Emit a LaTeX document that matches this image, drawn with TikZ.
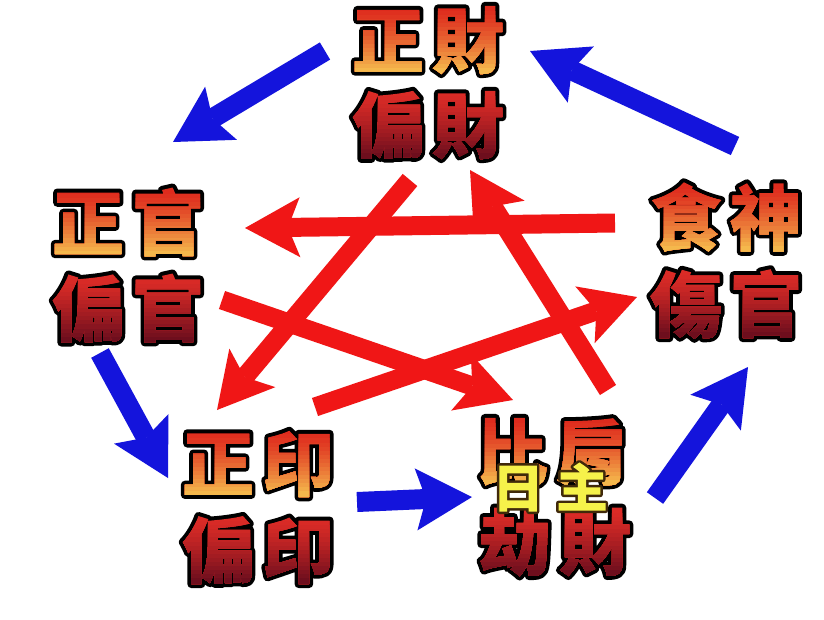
\documentclass[tikz,border=0pt]{standalone}
\usepackage{fontspec}
\usetikzlibrary{arrows.meta}
\newfontfamily\cjk{Noto Sans CJK TC}
\definecolor{zcblue}{HTML}{1414DC}
\definecolor{zcred}{HTML}{F01616}
\definecolor{topA}{HTML}{E0301F}
\definecolor{topB}{HTML}{DA2C26}
\definecolor{zcyellow}{HTML}{F6F24A}
\newcommand\zcfont{\cjk\bfseries\fontsize{72}{80}\selectfont}
\newcommand\zcpair[2]{#1\hspace{8pt}#2}
% vertical gradient (PDF fill operators) from top rgb to bottom rgb
\newcommand\zcmakegrad[7]{%
  \gdef#1{}%
  \foreach \k in {0,...,15}{%
    \pgfmathsetmacro\zct{(\k/15)^1.3}%
    \pgfmathsetmacro\zcr{#2+(#5-#2)*\zct}%
    \pgfmathsetmacro\zcg{#3+(#6-#3)*\zct}%
    \pgfmathsetmacro\zcb{#4+(#7-#4)*\zct}%
    \pgfmathsetmacro\zch{\k==0 ? 100 : 80-\k*65/16}%
    \xdef#1{#1 \zcr\space\zcg\space\zcb\space rg -175 -20 200 \zch\space re f}%
  }}
\zcmakegrad{\zcgradA}{0.870}{0.170}{0.115}{0.961}{0.720}{0.300}
\zcmakegrad{\zcgradB}{0.860}{0.170}{0.150}{0.430}{0.055}{0.115}
\newcommand\zcyel{0.965 0.949 0.290 rg -140 -30 160 120 re f}
% outlined text: stroke (outline) and clip to glyphs, then paint inside
\newcommand\zcfx[4]{%
  \special{pdf:bcontent}%
  \special{pdf:literal direct #1 RG #2 w 1 j 5 Tr}%
  #3%
  \special{pdf:literal direct 0 Tr}%
  \special{pdf:content #4}%
  \special{pdf:econtent}}
\begin{document}
\begin{tikzpicture}[x=1pt,y=-1pt,
  rowA/.style={inner sep=0pt, font=\zcfont, text=topA},
  rowB/.style={inner sep=0pt, font=\zcfont, text=topB},
  bluearrow/.style={draw=zcblue, line width=20pt,
    -{Stealth[length=56pt,width=62pt,inset=10pt,line width=0pt]}},
  redarrow/.style={draw=zcred, line width=19pt,
    -{Stealth[length=55pt,width=60pt,inset=12pt,line width=0pt]}}]
\fill[white] (0,0) rectangle (824,619);
\useasboundingbox (0,0) rectangle (824,619);

% red arrows (controlling cycle)
\coordinate (r1s) at (615,223); \coordinate (r1e) at (245,228);
\coordinate (r2s) at (222,300); \coordinate (r2e) at (513,400);
\coordinate (r3s) at (410,180); \coordinate (r3e) at (217,410);
\coordinate (r4s) at (608,390); \coordinate (r4e) at (470,170);
\coordinate (r5s) at (315,407); \coordinate (r5e) at (637,297);
\draw[redarrow] (r1s) -- (r1e);
\draw[redarrow] (r2s) -- (r2e);
\draw[redarrow] (r3s) -- (r3e);
\draw[redarrow] (r4s) -- (r4e);
\draw[redarrow] (r5s) -- (r5e);

% blue arrows (generating cycle)
\coordinate (b1s) at (325,51);  \coordinate (b1e) at (173,142);
\coordinate (b2s) at (735,146); \coordinate (b2e) at (530,51);
\coordinate (b3s) at (100,353); \coordinate (b3e) at (168,478);
\coordinate (b4s) at (357,502); \coordinate (b4e) at (472,497);
\coordinate (b5s) at (655,498); \coordinate (b5e) at (748,367);
\draw[bluearrow] (b1s) -- (b1e);
\draw[bluearrow] (b2s) -- (b2e);
\draw[bluearrow] (b3s) -- (b3e);
\draw[bluearrow] (b4s) -- (b4e);
\draw[bluearrow] (b5s) -- (b5e);

% labels
\node[rowA] (zcA) at (428,40)  {\zcfx{0 0 0}{8}{\zcpair{正}{財}}{\zcgradA}};
\node[rowB] (zcB) at (428,125) {\zcfx{0 0 0}{8}{\zcpair{偏}{財}}{\zcgradB}};
\node[rowA] (gA)  at (128,222) {\zcfx{0 0 0}{8}{\zcpair{正}{官}}{\zcgradA}};
\node[rowB] (gB)  at (128,308) {\zcfx{0 0 0}{8}{\zcpair{偏}{官}}{\zcgradB}};
\node[rowA] (sA)  at (726,217) {\zcfx{0 0 0}{8}{\zcpair{食}{神}}{\zcgradA}};
\node[rowB] (sB)  at (726,304) {\zcfx{0 0 0}{8}{\zcpair{傷}{官}}{\zcgradB}};
\node[rowA] (yA)  at (258,464) {\zcfx{0 0 0}{8}{\zcpair{正}{印}}{\zcgradA}};
\node[rowB] (yB)  at (258,550) {\zcfx{0 0 0}{8}{\zcpair{偏}{印}}{\zcgradB}};
\node[rowA] (bA)  at (552,452) {\zcfx{0 0 0}{8}{\zcpair{比}{肩}}{\zcgradA}};
\node[rowB] (bB)  at (555,542) {\zcfx{0 0 0}{8}{\zcpair{劫}{財}}{\zcgradB}};

% self (day master)
\node[inner sep=0pt, text=zcyellow, font=\cjk\bfseries\fontsize{52}{56}\selectfont]
  (rizhu) at (550,487) {\zcfx{0.25 0.16 0.04}{5}{日\hspace{12pt}主}{\zcyel}};
\end{tikzpicture}
\end{document}
